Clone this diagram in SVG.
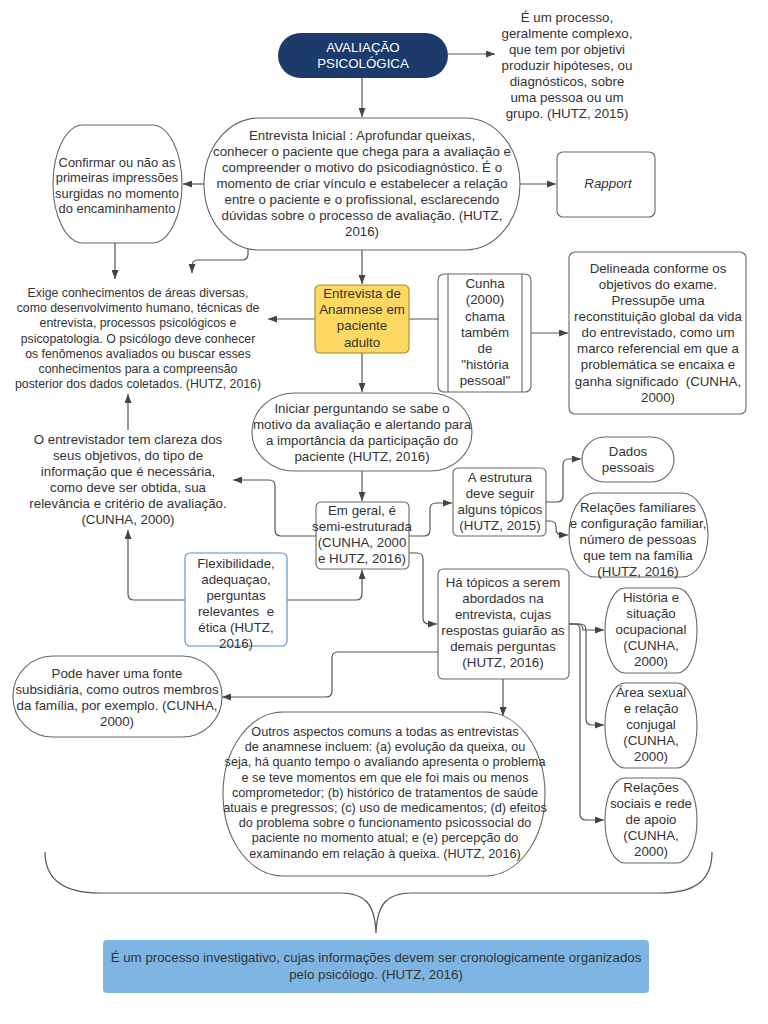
<svg xmlns="http://www.w3.org/2000/svg" width="768" height="1024" viewBox="0 0 768 1024">
<style>
  text { font-family: "Liberation Sans", Arial, sans-serif; font-size: 13.3px; fill: #333; text-anchor: middle; dominant-baseline: central; white-space: pre; }
  .sm { font-size: 12.7px; }
  .xs { font-size: 12.3px; }
  .cf { font-size: 12.9px; }
  .wh { fill: #ffffff; }
  .it { font-style: italic; }
  .shape { fill: #ffffff; stroke: #666; stroke-width: 1.1; }
  .conn path { fill: none; stroke: #555; stroke-width: 1.2; marker-end: url(#arr); }
</style>
<defs>
  <marker id="arr" markerWidth="9" markerHeight="7" refX="9" refY="3.5" orient="auto" markerUnits="userSpaceOnUse">
    <path d="M0,0 L9,3.5 L0,7 z" fill="#444"/>
  </marker>
</defs>
<rect width="768" height="1024" fill="#ffffff"/>

<g id="connectors" class="conn">
  <path d="M448,54 H495"/>
  <path d="M362,78 V117"/>
  <path d="M520,184 H556"/>
  <path d="M204,184 H183"/>
  <path d="M115,243 V279"/>
  <path d="M248,248 V254 Q248,260 242,260 H198 Q192,260 192,266 V273"/>
  <path d="M362,250 V284"/>
  <path d="M315,319 H268"/>
  <path d="M409,319 H449"/>
  <path d="M531,333 H568"/>
  <path d="M362,353 V392"/>
  <path d="M362,471 V501"/>
  <path d="M316,536 H281 Q275,536 275,530 V486 Q275,480 269,480 H233"/>
  <path d="M287,600 H356 Q362,600 362,594 V570"/>
  <path d="M185,600 H134 Q128,600 128,594 V530"/>
  <path d="M128,430 V394"/>
  <path d="M409,536 H424 Q430,536 430,530 V509 Q430,503 436,503 H452"/>
  <path d="M546,502 H557 Q563,502 563,496 V465 Q563,459 569,459 H581"/>
  <path d="M546,521 H550 Q556,521 556,527 V529 Q556,535 562,535 H568"/>
  <path d="M409,553 H417 Q423,553 423,559 V618 Q423,624 429,624 H437"/>
  <path d="M438,652 H338 Q332,652 332,658 V691 Q332,697 326,697 H222"/>
  <path d="M503,679 V716"/>
  <path d="M569,624 H577 Q583,624 583,630 H604"/>
  <path d="M569,624 H580 Q586,624 586,630 V719 Q586,725 592,725 H604"/>
  <path d="M569,624 H574 Q580,624 580,630 V814 Q580,820 586,820 H604"/>
  <path d="M45,852 C45,878 62,893 100,893 H340 C366,893 375,905 376,933 C377,905 386,893 412,893 H660 C698,893 712,878 712,852" style="marker-end:none"/>
</g>

<g id="avaliacao">
  <rect x="278" y="33" width="170" height="45" rx="22.5" fill="#1c3a6c"/>
  <text class="wh" x="363" y="47">AVALIAÇÃO</text>
  <text class="wh" x="363" y="63">PSICOLÓGICA</text>
</g>

<g id="processo">
  <text x="567" y="17">É um processo,</text>
  <text x="567" y="33">geralmente complexo,</text>
  <text x="567" y="49">que tem por objetivi</text>
  <text x="567" y="65">produzir hipóteses, ou</text>
  <text x="567" y="81">diagnósticos, sobre</text>
  <text x="567" y="97">uma pessoa ou um</text>
  <text x="567" y="113">grupo. (HUTZ, 2015)</text>
</g>

<g id="entrevista-inicial">
  <rect class="shape" x="204" y="118" width="316" height="132" rx="55" ry="66"/>
  <text x="362" y="135.5">Entrevista Inicial : Aprofundar queixas,</text>
  <text x="362" y="151.5">conhecer o paciente que chega para a avaliação e</text>
  <text x="362" y="167.5">compreender o motivo do psicodiagnóstico. É o</text>
  <text x="362" y="183.5">momento de criar vínculo e estabelecer a relação</text>
  <text x="362" y="199.5">entre o paciente e o profissional, esclarecendo</text>
  <text x="362" y="215.5">dúvidas sobre o processo de avaliação. (HUTZ,</text>
  <text x="362" y="231.5">2016)</text>
</g>

<g id="rapport">
  <rect class="shape" x="557" y="152" width="98" height="65" rx="6"/>
  <text class="it" x="608" y="183">Rapport</text>
</g>

<g id="confirmar">
  <rect class="shape" x="53" y="125" width="129" height="118" rx="30" ry="59"/>
  <text class="cf" x="117" y="162">Confirmar ou não as</text>
  <text class="cf" x="117" y="177.5">primeiras impressões</text>
  <text class="cf" x="117" y="193">surgidas no momento</text>
  <text class="cf" x="117" y="208.5">do encaminhamento</text>
</g>

<g id="exige">
  <text class="xs" x="138" y="293">Exige conhecimentos de áreas diversas,</text>
  <text class="xs" x="138" y="308.2">como desenvolvimento humano, técnicas de</text>
  <text class="xs" x="138" y="323.4">entrevista, processos psicológicos e</text>
  <text class="xs" x="138" y="338.6">psicopatologia. O psicólogo deve conhecer</text>
  <text class="xs" x="138" y="353.8">os fenômenos avaliados ou buscar esses</text>
  <text class="xs" x="138" y="369">conhecimentos para a compreensão</text>
  <text class="xs" x="138" y="384.2">posterior dos dados coletados. (HUTZ, 2016)</text>
</g>

<g id="anamnese">
  <rect x="315" y="285" width="94" height="68" rx="5" fill="#fdd863" stroke="#a8892c" stroke-width="1.1"/>
  <text x="362" y="293">Entrevista de</text>
  <text x="362" y="309">Anamnese em</text>
  <text x="362" y="325.5">paciente</text>
  <text x="362" y="342">adulto</text>
</g>

<g id="cunha">
  <rect class="shape" x="438" y="274" width="93" height="118" rx="6"/>
  <path d="M448,274 V392 M522,274 V392" stroke="#666" stroke-width="1.1" fill="none"/>
  <text x="485" y="283">Cunha</text>
  <text x="485" y="299.5">(2000)</text>
  <text x="485" y="316">chama</text>
  <text x="485" y="332">também</text>
  <text x="485" y="348">de</text>
  <text x="485" y="364">"história</text>
  <text x="485" y="380">pessoal"</text>
</g>

<g id="delineada">
  <rect class="shape" x="569" y="252" width="177" height="162" rx="6"/>
  <text x="658" y="268">Delineada conforme os</text>
  <text x="658" y="284">objetivos do exame.</text>
  <text x="658" y="300">Pressupõe uma</text>
  <text x="658" y="316">reconstituição global da vida</text>
  <text x="658" y="332">do entrevistado, como um</text>
  <text x="658" y="348">marco referencial em que a</text>
  <text x="658" y="364">problemática se encaixa e</text>
  <text x="658" y="381">ganha significado  (CUNHA,</text>
  <text x="658" y="397">2000)</text>
</g>

<g id="iniciar">
  <rect class="shape" x="252" y="393" width="220" height="78" rx="42" ry="39"/>
  <text x="362" y="408">Iniciar perguntando se sabe o</text>
  <text x="362" y="424">motivo da avaliação e alertando para</text>
  <text x="362" y="440">a importância da participação do</text>
  <text x="362" y="456">paciente (HUTZ, 2016)</text>
</g>

<g id="entrevistador">
  <text x="128" y="439">O entrevistador tem clareza dos</text>
  <text x="128" y="455">seus objetivos, do tipo de</text>
  <text x="128" y="471">informação que é necessária,</text>
  <text x="128" y="487">como deve ser obtida, sua</text>
  <text x="128" y="503">relevância e critério de avaliação.</text>
  <text x="128" y="519">(CUNHA, 2000)</text>
</g>

<g id="em-geral">
  <rect class="shape" x="316" y="502" width="93" height="67" rx="5"/>
  <text x="362" y="510">Em geral, é</text>
  <text x="362" y="526">semi-estruturada</text>
  <text x="362" y="542">(CUNHA, 2000</text>
  <text x="362" y="558">e HUTZ, 2016)</text>
</g>

<g id="estrutura">
  <rect class="shape" x="453" y="468" width="93" height="68" rx="5"/>
  <text x="500" y="477">A estrutura</text>
  <text x="500" y="493">deve seguir</text>
  <text x="500" y="509">alguns tópicos</text>
  <text x="500" y="525">(HUTZ, 2015)</text>
</g>

<g id="dados">
  <rect class="shape" x="582" y="437" width="92" height="45" rx="22.5"/>
  <text x="628" y="451">Dados</text>
  <text x="628" y="467">pessoais</text>
</g>

<g id="relacoes-familiares">
  <rect class="shape" x="569" y="493" width="139" height="84" rx="26" ry="42"/>
  <text x="638" y="507">Relações familiares</text>
  <text x="638" y="523">e configuração familiar,</text>
  <text x="638" y="539">número de pessoas</text>
  <text x="638" y="555">que tem na família</text>
  <text x="638" y="571">(HUTZ, 2016)</text>
</g>

<g id="flexibilidade">
  <rect x="185" y="553" width="102" height="93" rx="5" fill="#ffffff" stroke="#4f8fc8" stroke-width="1.1"/>
  <text x="236" y="563">Flexibilidade,</text>
  <text x="236" y="579">adequaçao,</text>
  <text x="236" y="595">perguntas</text>
  <text x="236" y="611">relevantes  e</text>
  <text x="236" y="627">ética (HUTZ,</text>
  <text x="236" y="643">2016)</text>
</g>

<g id="topicos">
  <rect class="shape" x="438" y="569" width="131" height="110" rx="5"/>
  <text x="503" y="582">Há tópicos a serem</text>
  <text x="503" y="598">abordados na</text>
  <text x="503" y="614">entrevista, cujas</text>
  <text x="503" y="630">respostas guiarão as</text>
  <text x="503" y="646">demais perguntas</text>
  <text x="503" y="662">(HUTZ, 2016)</text>
</g>

<g id="historia">
  <rect class="shape" x="605" y="588" width="92" height="85" rx="20" ry="42"/>
  <text x="651" y="597">História e</text>
  <text x="651" y="613">situação</text>
  <text x="651" y="629">ocupacional</text>
  <text x="651" y="645">(CUNHA,</text>
  <text x="651" y="661">2000)</text>
</g>

<g id="area-sexual">
  <rect class="shape" x="605" y="683" width="92" height="85" rx="20" ry="42"/>
  <text x="651" y="692">Área sexual</text>
  <text x="651" y="708">e relação</text>
  <text x="651" y="724">conjugal</text>
  <text x="651" y="740">(CUNHA,</text>
  <text x="651" y="756">2000)</text>
</g>

<g id="relacoes-sociais">
  <rect class="shape" x="605" y="778" width="92" height="85" rx="20" ry="42"/>
  <text x="651" y="787">Relações</text>
  <text x="651" y="803">sociais e rede</text>
  <text x="651" y="819">de apoio</text>
  <text x="651" y="835">(CUNHA,</text>
  <text x="651" y="851">2000)</text>
</g>

<g id="pode-haver">
  <rect class="shape" x="13" y="656" width="209" height="81" rx="40" ry="40"/>
  <text x="117" y="673">Pode haver uma fonte</text>
  <text x="117" y="689">subsidiária, como outros membros</text>
  <text x="117" y="705">da família, por exemplo. (CUNHA,</text>
  <text x="117" y="721">2000)</text>
</g>

<g id="outros">
  <rect class="shape" x="223" y="712" width="322" height="164" rx="60" ry="82"/>
  <text class="sm" x="385" y="732">Outros aspectos comuns a todas as entrevistas</text>
  <text class="sm" x="385" y="747.2">de anamnese incluem: (a) evolução da queixa, ou</text>
  <text class="sm" x="385" y="762.4">seja, há quanto tempo o avaliando apresenta o problema</text>
  <text class="sm" x="385" y="777.6">e se teve momentos em que ele foi mais ou menos</text>
  <text class="sm" x="385" y="792.8">comprometedor; (b) histórico de tratamentos de saúde</text>
  <text class="sm" x="385" y="808">atuais e pregressos; (c) uso de medicamentos; (d) efeitos</text>
  <text class="sm" x="385" y="823.2">do problema sobre o funcionamento psicossocial do</text>
  <text class="sm" x="385" y="838.4">paciente no momento atual; e (e) percepção do</text>
  <text class="sm" x="385" y="853.6">examinando em relação à queixa. (HUTZ, 2016)</text>
</g>

<g id="conclusao">
  <rect x="103" y="940" width="546" height="53" rx="4" fill="#7eb5e3"/>
  <text x="376" y="957">É um processo investigativo, cujas informações devem ser cronologicamente organizados</text>
  <text x="376" y="974">pelo psicólogo. (HUTZ, 2016)</text>
</g>
</svg>
